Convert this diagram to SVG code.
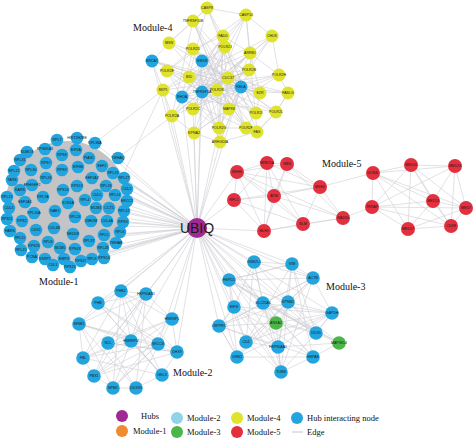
<svg xmlns="http://www.w3.org/2000/svg" width="474" height="440" viewBox="0 0 474 440">
<style>
.y circle{fill:#dfe32c}
.b circle{fill:#22a5de}
.r circle{fill:#e2303f}
.g circle{fill:#4cb648}
.h circle{fill:#a02a93}
.n text{font-family:"Liberation Sans",Arial,sans-serif;font-size:3.6px;text-anchor:middle;fill:#1a1a1a}
.e{fill:none;stroke:#cfcdd4;stroke-width:0.6}
.mod{font-family:"Liberation Serif","Times New Roman",serif;font-size:10px;fill:#111}
.leg{font-family:"Liberation Serif","Times New Roman",serif;font-size:8.5px;fill:#111}
</style>
<rect width="474" height="440" fill="#ffffff"/>
<circle cx="67" cy="202" r="61" fill="#c4c4c7"/>
<g id="connectors">
<path class="e" d="M207 8 L169 43 L249 70 L193 109 L246 15 L182 97 L193 49 L246 128 L193 21 L260 93 L152 61 L228 78 L220 142 L223 36 L172 116 L250 53 L217 90 L279 75 L163 90 L225 47 L256 113 L202 61 L194 133 L272 36 L202 92 L167 71 L229 109 L189 77 L219 128 L241 87 L288 93 L276 112 L257 132 L207 8"/>
<path class="e" d="M207 8 L189 77 L272 36 L172 116 L193 21 L229 109 L169 43 L241 87 L202 61 L257 132 L246 15 L167 71 L219 128 L223 36 L182 97 L276 112 L152 61 L260 93 L193 49 L220 142 L249 70 L202 92 L225 47 L194 133 L279 75 L193 109 L250 53 L163 90 L246 128 L228 78 L288 93 L217 90 L256 113 L207 8"/>
<path class="e" d="M207 8 L246 15 L272 36 L279 75 L288 93 L276 112 L257 132 L220 142 L194 133 L172 116 L163 90 L152 61 L169 43 L193 21 L207 8 L223 36 L250 53 L279 75 M246 15 L250 53 L260 93 L256 113 L246 128 L219 128 L193 109 L182 97 L167 71 L193 49 L223 36 M193 49 L202 61 L228 78 L249 70 L272 36 M189 77 L217 90 L241 87 L260 93 M202 92 L229 109 L246 128 M241 87 L229 109 L194 133 M172 116 L202 92 L217 90 L219 128"/>
<path class="e" d="M225 47 L189 77 L249 70 L202 92 L256 113 L193 49 L228 78 L182 97 L241 87 L167 71 L217 90 L246 15 L202 61 L219 128 L250 53 L193 109 L223 36 L229 109 L193 21 L228 78 L276 112 L202 61 L246 128 L189 77 L260 93 L225 47 L172 116 L241 87 L220 142 L202 92 L249 70"/>
<path class="e" d="M267 163 L287 164 M267 163 L237 172 M267 163 L320 187 M267 163 L234 200 M267 163 L274 196 M267 163 L303 224 M267 163 L264 231 M287 164 L237 172 M287 164 L320 187 M287 164 L274 196 M287 164 L343 218 M287 164 L264 231 M237 172 L234 200 M237 172 L274 196 M237 172 L320 187 M237 172 L303 224 M237 172 L343 218 M234 200 L274 196 M234 200 L264 231 M234 200 L320 187 M274 196 L320 187 M274 196 L303 224 M274 196 L264 231 M274 196 L343 218 M303 224 L264 231 M303 224 L343 218 M303 224 L320 187 M320 187 L343 218 M264 231 L343 218 M237 172 L264 231 M234 200 L303 224 M320 187 L373 173 M343 218 L372 207"/>
<path class="e" d="M373 173 L411 165 M373 173 L455 166 M373 173 L372 207 M373 173 L433 201 M373 173 L466 208 M373 173 L408 229 M373 173 L451 226 M411 165 L455 166 M411 165 L372 207 M411 165 L433 201 M411 165 L408 229 M411 165 L466 208 M411 165 L451 226 M455 166 L433 201 M455 166 L466 208 M455 166 L451 226 M455 166 L372 207 M372 207 L433 201 M372 207 L408 229 M372 207 L451 226 M372 207 L466 208 M433 201 L466 208 M433 201 L451 226 M433 201 L408 229 M466 208 L451 226 M466 208 L408 229 M408 229 L451 226"/>
<path class="e" d="M254 262 L313 278 L288 302 L332 313 L316 333 L339 343 L313 357 L281 372 L278 347 L246 342 L237 357 L219 326 L234 307 L229 280 L263 303 L254 262 M254 262 L263 303 L276 323 L316 333 L332 313 L313 278 L292 264 L288 302 L278 347 L281 372 L246 342 L234 307 L219 326 L237 357 L229 280 L292 264 M229 280 L313 278 L276 323 L237 357 L313 357 L234 307 L332 313 L246 342 L292 264 L278 347 L219 326 L288 302 L281 372 L316 333 L254 262 L246 342 M254 262 L292 264 L229 280 L288 302 L339 343 L278 347 L263 303 L313 357 L219 326 L313 278 L281 372 L234 307 L316 333 L263 303 L332 313 L276 323 L229 280 L316 333 M254 262 L234 307 L278 347 L332 313 L237 357 L288 302 L246 342 L313 278 L219 326 L276 323 L281 372 L263 303 L339 343 L229 280 L316 333 L292 264 L313 357"/>
<path class="e" d="M121 291 L146 294 L172 319 L177 352 L162 375 L136 388 L113 388 L94 376 L83 358 L79 324 L98 303 L121 291 L131 341 L162 375 L98 303 L158 344 L113 388 L79 324 L146 294 L108 343 L177 352 M121 291 L172 319 L108 343 L94 376 L158 344 L83 358 L146 294 L136 388 L79 324 L177 352 L98 303 L162 375 L131 341 L113 388 L121 291 L83 358 L172 319 L94 376 L146 294 M98 303 L146 294 L131 341 L83 358 L162 375 L121 291 L177 352 L108 343 L136 388 L172 319 L113 388 L158 344 L79 324 L131 341 L94 376 L177 352"/>
<path class="e" d="M197 228 L95 143 M197 228 L118 158 M197 228 L102 165 M197 228 L113 172 M197 228 L122 177 M197 228 L125 187 M197 228 L110 187 M197 228 L113 190 M197 228 L127 198 M197 228 L124 208 M197 228 L109 208 M197 228 L124 218 M197 228 L107 220 M197 228 L121 226 M197 228 L117 235 M197 228 L105 235 M197 228 L111 246 M197 228 L102 252 M197 228 L90 262 M197 228 L80 260 M197 228 L70 265 M197 228 L88 258 M197 228 L91 220 M197 228 L96 207 M197 228 L97 195 M197 228 L92 178 M197 228 L89 158 M197 228 L87 240"/>
<path class="e" d="M197 228 L163 90 M197 228 L172 116 M197 228 L194 133 M197 228 L220 142 M197 228 L219 128 M197 228 L182 97 M197 228 L193 109 M197 228 L152 61 M197 228 L202 92 M197 228 L241 87 M197 228 L202 61 M197 228 L234 200 M197 228 L237 172 M197 228 L264 231 M95 143 L163 90 M118 158 L172 116 M122 177 L163 90"/>
<path class="e" d="M197 228 L254 262 M197 228 L292 264 M197 228 L229 280 M197 228 L313 278 M197 228 L234 307 M197 228 L263 303 M197 228 L288 302 M197 228 L332 313 M197 228 L276 323 M197 228 L219 326 M197 228 L316 333 M197 228 L246 342 M197 228 L278 347 M197 228 L237 357 M197 228 L313 357 M197 228 L281 372 M197 228 L121 291 M197 228 L146 294 M197 228 L98 303 M197 228 L172 319 M197 228 L131 341 M197 228 L108 343 M197 228 L158 344 M197 228 L177 352 M197 228 L79 324"/>
</g>
<g id="module-4-nodes" class="n">
<g id="CASP8" class="y"><circle cx="207" cy="8" r="6.5"/><text x="207" y="9.3">CASP8</text></g>
<g id="CASP10" class="y"><circle cx="246" cy="15" r="6.5"/><text x="246" y="16.3">CASP10</text></g>
<g id="TNFRSF10B" class="y"><circle cx="193" cy="21" r="6.5"/><text x="193" y="22.3">TNFRSF10B</text></g>
<g id="FADD" class="y"><circle cx="223" cy="36" r="6.5"/><text x="223" y="37.3">FADD</text></g>
<g id="POLR2J" class="y"><circle cx="225" cy="47" r="6.5"/><text x="225" y="48.3">POLR2J</text></g>
<g id="CHUK" class="y"><circle cx="272" cy="36" r="6.5"/><text x="272" y="37.3">CHUK</text></g>
<g id="MSN" class="y"><circle cx="169" cy="43" r="6.5"/><text x="169" y="44.3">MSN</text></g>
<g id="POLR2D" class="y"><circle cx="193" cy="49" r="6.5"/><text x="193" y="50.3">POLR2D</text></g>
<g id="ARRB1" class="y"><circle cx="250" cy="53" r="6.5"/><text x="250" y="54.3">ARRB1</text></g>
<g id="BRCA1" class="b"><circle cx="152" cy="61" r="6.5"/><text x="152" y="62.3">BRCA1</text></g>
<g id="IKBKB" class="b"><circle cx="202" cy="61" r="6.5"/><text x="202" y="62.3">IKBKB</text></g>
<g id="POLR2E" class="y"><circle cx="167" cy="71" r="6.5"/><text x="167" y="72.3">POLR2E</text></g>
<g id="POLR2B" class="y"><circle cx="249" cy="70" r="6.5"/><text x="249" y="71.3">POLR2B</text></g>
<g id="POLR2H" class="y"><circle cx="279" cy="75" r="6.5"/><text x="279" y="76.3">POLR2H</text></g>
<g id="BID" class="y"><circle cx="189" cy="77" r="6.5"/><text x="189" y="78.3">BID</text></g>
<g id="CDC37" class="y"><circle cx="228" cy="78" r="6.5"/><text x="228" y="79.3">CDC37</text></g>
<g id="SKP1" class="y"><circle cx="163" cy="90" r="6.5"/><text x="163" y="91.3">SKP1</text></g>
<g id="RELA" class="b"><circle cx="241" cy="87" r="6.5"/><text x="241" y="88.3">RELA</text></g>
<g id="POLR2K" class="y"><circle cx="217" cy="90" r="6.5"/><text x="217" y="91.3">POLR2K</text></g>
<g id="RHOA" class="b"><circle cx="182" cy="97" r="6.5"/><text x="182" y="98.3">RHOA</text></g>
<g id="TNFRSF1A" class="b"><circle cx="202" cy="92" r="6.5"/><text x="202" y="93.3">TNFRSF1A</text></g>
<g id="EZR" class="y"><circle cx="260" cy="93" r="6.5"/><text x="260" y="94.3">EZR</text></g>
<g id="FASLG" class="y"><circle cx="288" cy="93" r="6.5"/><text x="288" y="94.3">FASLG</text></g>
<g id="MAPK8" class="y"><circle cx="229" cy="109" r="6.5"/><text x="229" y="110.3">MAPK8</text></g>
<g id="POLR2C" class="y"><circle cx="193" cy="109" r="6.5"/><text x="193" y="110.3">POLR2C</text></g>
<g id="POLR2I" class="y"><circle cx="256" cy="113" r="6.5"/><text x="256" y="114.3">POLR2I</text></g>
<g id="POLR2L" class="y"><circle cx="276" cy="112" r="6.5"/><text x="276" y="113.3">POLR2L</text></g>
<g id="POLR2A" class="y"><circle cx="172" cy="116" r="6.5"/><text x="172" y="117.3">POLR2A</text></g>
<g id="POLR2G" class="y"><circle cx="219" cy="128" r="6.5"/><text x="219" y="129.3">POLR2G</text></g>
<g id="POLR2F" class="y"><circle cx="246" cy="128" r="6.5"/><text x="246" y="129.3">POLR2F</text></g>
<g id="FAS" class="y"><circle cx="257" cy="132" r="6.5"/><text x="257" y="133.3">FAS</text></g>
<g id="KPNA2" class="y"><circle cx="194" cy="133" r="6.5"/><text x="194" y="134.3">KPNA2</text></g>
<g id="ARHGDIA" class="y"><circle cx="220" cy="142" r="6.5"/><text x="220" y="143.3">ARHGDIA</text></g>
</g>
<g id="module-5-nodes" class="n">
<g id="MRE11A" class="r"><circle cx="267" cy="163" r="7"/><text x="267" y="164.3">MRE11A</text></g>
<g id="NBN" class="r"><circle cx="287" cy="164" r="7"/><text x="287" y="165.3">NBN</text></g>
<g id="MSH6" class="r"><circle cx="237" cy="172" r="7"/><text x="237" y="173.3">MSH6</text></g>
<g id="MSH2" class="r"><circle cx="320" cy="187" r="7"/><text x="320" y="188.3">MSH2</text></g>
<g id="RFC1" class="r"><circle cx="234" cy="200" r="7"/><text x="234" y="201.3">RFC1</text></g>
<g id="ATM" class="r"><circle cx="274" cy="196" r="7"/><text x="274" y="197.3">ATM</text></g>
<g id="RAD50" class="r"><circle cx="343" cy="218" r="7"/><text x="343" y="219.3">RAD50</text></g>
<g id="BLM" class="r"><circle cx="303" cy="224" r="7"/><text x="303" y="225.3">BLM</text></g>
<g id="MLH1" class="r"><circle cx="264" cy="231" r="7"/><text x="264" y="232.3">MLH1</text></g>
<g id="GON4L" class="r"><circle cx="373" cy="173" r="7"/><text x="373" y="174.3">GON4L</text></g>
<g id="MED10" class="r"><circle cx="411" cy="165" r="7"/><text x="411" y="166.3">MED10</text></g>
<g id="MED23" class="r"><circle cx="455" cy="166" r="7"/><text x="455" y="167.3">MED23</text></g>
<g id="TRRAP" class="r"><circle cx="372" cy="207" r="7"/><text x="372" y="208.3">TRRAP</text></g>
<g id="MED24" class="r"><circle cx="433" cy="201" r="7"/><text x="433" y="202.3">MED24</text></g>
<g id="MED7" class="r"><circle cx="466" cy="208" r="7"/><text x="466" y="209.3">MED7</text></g>
<g id="MED17" class="r"><circle cx="408" cy="229" r="7"/><text x="408" y="230.3">MED17</text></g>
<g id="CDK8" class="r"><circle cx="451" cy="226" r="7"/><text x="451" y="227.3">CDK8</text></g>
</g>
<g id="module-3-nodes" class="n">
<g id="GNB2L1" class="b"><circle cx="254" cy="262" r="6.8"/><text x="254" y="263.3">GNB2L1</text></g>
<g id="VIM" class="b"><circle cx="292" cy="264" r="6.8"/><text x="292" y="265.3">VIM</text></g>
<g id="HSPD1" class="b"><circle cx="229" cy="280" r="6.8"/><text x="229" y="281.3">HSPD1</text></g>
<g id="ACTB" class="b"><circle cx="313" cy="278" r="6.8"/><text x="313" y="279.3">ACTB</text></g>
<g id="EIF3I" class="b"><circle cx="234" cy="307" r="6.8"/><text x="234" y="308.3">EIF3I</text></g>
<g id="SLC25A6" class="b"><circle cx="263" cy="303" r="6.8"/><text x="263" y="304.3">SLC25A6</text></g>
<g id="KPNB1" class="b"><circle cx="288" cy="302" r="6.8"/><text x="288" y="303.3">KPNB1</text></g>
<g id="GAPDH" class="b"><circle cx="332" cy="313" r="6.8"/><text x="332" y="314.3">GAPDH</text></g>
<g id="ANXA2" class="g"><circle cx="276" cy="323" r="6.8"/><text x="276" y="324.3">ANXA2</text></g>
<g id="LRPPRC" class="b"><circle cx="219" cy="326" r="6.8"/><text x="219" y="327.3">LRPPRC</text></g>
<g id="DDX5" class="b"><circle cx="316" cy="333" r="6.8"/><text x="316" y="334.3">DDX5</text></g>
<g id="MAP3K14" class="g"><circle cx="339" cy="343" r="6.8"/><text x="339" y="344.3">MAP3K14</text></g>
<g id="CD4" class="b"><circle cx="246" cy="342" r="6.8"/><text x="246" y="343.3">CD4</text></g>
<g id="HSP90AA1" class="b"><circle cx="278" cy="347" r="6.8"/><text x="278" y="348.3">HSP90AA1</text></g>
<g id="GRB2" class="b"><circle cx="237" cy="357" r="6.8"/><text x="237" y="358.3">GRB2</text></g>
<g id="HSPA8" class="b"><circle cx="313" cy="357" r="6.8"/><text x="313" y="358.3">HSPA8</text></g>
<g id="TUBB" class="b"><circle cx="281" cy="372" r="6.8"/><text x="281" y="373.3">TUBB</text></g>
</g>
<g id="module-2-nodes" class="n">
<g id="PHB2" class="b"><circle cx="121" cy="291" r="6.8"/><text x="121" y="292.3">PHB2</text></g>
<g id="HSP90AB1" class="b"><circle cx="146" cy="294" r="6.8"/><text x="146" y="295.3">HSP90AB1</text></g>
<g id="PHB" class="b"><circle cx="98" cy="303" r="6.8"/><text x="98" y="304.3">PHB</text></g>
<g id="SF3B1" class="b"><circle cx="79" cy="324" r="6.8"/><text x="79" y="325.3">SF3B1</text></g>
<g id="HNRNPL" class="b"><circle cx="172" cy="319" r="6.8"/><text x="172" y="320.3">HNRNPL</text></g>
<g id="NCL" class="b"><circle cx="108" cy="343" r="6.8"/><text x="108" y="344.3">NCL</text></g>
<g id="HNRNPU" class="b"><circle cx="131" cy="341" r="6.8"/><text x="131" y="342.3">HNRNPU</text></g>
<g id="SRCC8" class="b"><circle cx="158" cy="344" r="6.8"/><text x="158" y="345.3">SRCC8</text></g>
<g id="DHX9" class="b"><circle cx="177" cy="352" r="6.8"/><text x="177" y="353.3">DHX9</text></g>
<g id="FBL" class="b"><circle cx="83" cy="358" r="6.8"/><text x="83" y="359.3">FBL</text></g>
<g id="PBX1" class="b"><circle cx="94" cy="376" r="6.8"/><text x="94" y="377.3">PBX1</text></g>
<g id="GNL3" class="b"><circle cx="162" cy="375" r="6.8"/><text x="162" y="376.3">GNL3</text></g>
<g id="NPM1" class="b"><circle cx="113" cy="388" r="6.8"/><text x="113" y="389.3">NPM1</text></g>
<g id="DDX39" class="b"><circle cx="136" cy="388" r="6.8"/><text x="136" y="389.3">DDX39</text></g>
</g>
<g id="module-1-nodes" class="n">
<g id="m1-RPL7" class="b"><circle cx="57" cy="140" r="6.3"/><text x="57" y="141.3">RPL7</text></g>
<g id="m1-HIST2H2BE" class="b"><circle cx="77" cy="138" r="6.3"/><text x="77" y="139.3">HIST2H2BE</text></g>
<g id="m1-RPL38A" class="b"><circle cx="95" cy="143" r="6.3"/><text x="95" y="144.3">RPL38A</text></g>
<g id="m1-SUMO3" class="b"><circle cx="27" cy="152" r="6.3"/><text x="27" y="153.3">SUMO3</text></g>
<g id="m1-RPS6KA3" class="b"><circle cx="45" cy="149" r="6.3"/><text x="45" y="150.3">RPS6KA3</text></g>
<g id="m1-EIF2A" class="b"><circle cx="76" cy="150" r="6.3"/><text x="76" y="151.3">EIF2A</text></g>
<g id="m1-RPL31" class="b"><circle cx="20" cy="160" r="6.3"/><text x="20" y="161.3">RPL31</text></g>
<g id="m1-RPS8" class="b"><circle cx="62" cy="155" r="6.3"/><text x="62" y="156.3">RPS8</text></g>
<g id="m1-RPS7" class="b"><circle cx="46" cy="163" r="6.3"/><text x="46" y="164.3">RPS7</text></g>
<g id="m1-PIAS1" class="b"><circle cx="89" cy="158" r="6.3"/><text x="89" y="159.3">PIAS1</text></g>
<g id="m1-RPL22" class="b"><circle cx="14" cy="171" r="6.3"/><text x="14" y="172.3">RPL22</text></g>
<g id="m1-RPL30" class="b"><circle cx="31" cy="170" r="6.3"/><text x="31" y="171.3">RPL30</text></g>
<g id="m1-RPS9" class="b"><circle cx="62" cy="170" r="6.3"/><text x="62" y="171.3">RPS9</text></g>
<g id="m1-EIF3B" class="b"><circle cx="78" cy="167" r="6.3"/><text x="78" y="168.3">EIF3B</text></g>
<g id="m1-TARS" class="b"><circle cx="12" cy="180" r="6.3"/><text x="12" y="181.3">TARS</text></g>
<g id="m1-RPL26" class="b"><circle cx="46" cy="178" r="6.3"/><text x="46" y="179.3">RPL26</text></g>
<g id="m1-ARHGEF2" class="b"><circle cx="32" cy="185" r="6.3"/><text x="32" y="186.3">ARHGEF2</text></g>
<g id="m1-RPS13" class="b"><circle cx="77" cy="186" r="6.3"/><text x="77" y="187.3">RPS13</text></g>
<g id="m1-RPS16" class="b"><circle cx="63" cy="190" r="6.3"/><text x="63" y="191.3">RPS16</text></g>
<g id="m1-KARS" class="b"><circle cx="20" cy="190" r="6.3"/><text x="20" y="191.3">KARS</text></g>
<g id="m1-YWHAQ" class="b"><circle cx="118" cy="158" r="6.3"/><text x="118" y="159.3">YWHAQ</text></g>
<g id="m1-EEF2" class="b"><circle cx="102" cy="166" r="6.3"/><text x="102" y="167.3">EEF2</text></g>
<g id="m1-RPL23" class="b"><circle cx="113" cy="173" r="6.3"/><text x="113" y="174.3">RPL23</text></g>
<g id="m1-RPL27" class="b"><circle cx="124" cy="178" r="6.3"/><text x="124" y="179.3">RPL27</text></g>
<g id="m1-EEF1A2" class="b"><circle cx="92" cy="178" r="6.3"/><text x="92" y="179.3">EEF1A2</text></g>
<g id="m1-CUL2" class="b"><circle cx="127" cy="189" r="6.3"/><text x="127" y="190.3">CUL2</text></g>
<g id="m1-RPL18" class="b"><circle cx="106" cy="186" r="6.3"/><text x="106" y="187.3">RPL18</text></g>
<g id="m1-RPL14" class="b"><circle cx="115" cy="195" r="6.3"/><text x="115" y="196.3">RPL14</text></g>
<g id="m1-RPL13" class="b"><circle cx="7" cy="197" r="6.3"/><text x="7" y="198.3">RPL13</text></g>
<g id="m1-EEF1A1" class="b"><circle cx="25" cy="202" r="6.3"/><text x="25" y="203.3">EEF1A1</text></g>
<g id="m1-RPL7A" class="b"><circle cx="43" cy="197" r="6.3"/><text x="43" y="198.3">RPL7A</text></g>
<g id="m1-SCN1A" class="b"><circle cx="68" cy="203" r="6.3"/><text x="68" y="204.3">SCN1A</text></g>
<g id="m1-RPL4" class="b"><circle cx="85" cy="200" r="6.3"/><text x="85" y="201.3">RPL4</text></g>
<g id="m1-CUL5" class="b"><circle cx="97" cy="195" r="6.3"/><text x="97" y="196.3">CUL5</text></g>
<g id="m1-MCM4" class="b"><circle cx="96" cy="208" r="6.3"/><text x="96" y="209.3">MCM4</text></g>
<g id="m1-CUL3" class="b"><circle cx="9" cy="208" r="6.3"/><text x="9" y="209.3">CUL3</text></g>
<g id="m1-RPL10A" class="b"><circle cx="34" cy="213" r="6.3"/><text x="34" y="214.3">RPL10A</text></g>
<g id="m1-NAE1" class="b"><circle cx="55" cy="211" r="6.3"/><text x="55" y="212.3">NAE1</text></g>
<g id="m1-RPL24" class="b"><circle cx="75" cy="217" r="6.3"/><text x="75" y="218.3">RPL24</text></g>
<g id="m1-RPS11" class="b"><circle cx="7" cy="219" r="6.3"/><text x="7" y="220.3">RPS11</text></g>
<g id="m1-RPS2" class="b"><circle cx="22" cy="221" r="6.3"/><text x="22" y="222.3">RPS2</text></g>
<g id="m1-UBE2M" class="b"><circle cx="91" cy="221" r="6.3"/><text x="91" y="222.3">UBE2M</text></g>
<g id="m1-HARS" class="b"><circle cx="10" cy="231" r="6.3"/><text x="10" y="232.3">HARS</text></g>
<g id="m1-CDK1" class="b"><circle cx="36" cy="230" r="6.3"/><text x="36" y="231.3">CDK1</text></g>
<g id="m1-CUL4B" class="b"><circle cx="54" cy="228" r="6.3"/><text x="54" y="229.3">CUL4B</text></g>
<g id="m1-RPL11" class="b"><circle cx="20" cy="238" r="6.3"/><text x="20" y="239.3">RPL11</text></g>
<g id="m1-NEDD8" class="b"><circle cx="73" cy="234" r="6.3"/><text x="73" y="235.3">NEDD8</text></g>
<g id="m1-RPL37" class="b"><circle cx="89" cy="241" r="6.3"/><text x="89" y="242.3">RPL37</text></g>
<g id="m1-RPL8" class="b"><circle cx="48" cy="242" r="6.3"/><text x="48" y="243.3">RPL8</text></g>
<g id="m1-RPL15" class="b"><circle cx="21" cy="250" r="6.3"/><text x="21" y="251.3">RPL15</text></g>
<g id="m1-RPS26" class="b"><circle cx="34" cy="246" r="6.3"/><text x="34" y="247.3">RPS26</text></g>
<g id="m1-MCM5" class="b"><circle cx="60" cy="248" r="6.3"/><text x="60" y="249.3">MCM5</text></g>
<g id="m1-RPS4X" class="b"><circle cx="75" cy="249" r="6.3"/><text x="75" y="250.3">RPS4X</text></g>
<g id="m1-PCNA" class="b"><circle cx="32" cy="257" r="6.3"/><text x="32" y="258.3">PCNA</text></g>
<g id="m1-SSRP1" class="b"><circle cx="45" cy="259" r="6.3"/><text x="45" y="260.3">SSRP1</text></g>
<g id="m1-EMP3" class="b"><circle cx="64" cy="259" r="6.3"/><text x="64" y="260.3">EMP3</text></g>
<g id="m1-CUL1" class="b"><circle cx="53" cy="265" r="6.3"/><text x="53" y="266.3">CUL1</text></g>
<g id="m1-RPS27" class="b"><circle cx="81" cy="261" r="6.3"/><text x="81" y="262.3">RPS27</text></g>
<g id="m1-RPS15" class="b"><circle cx="70" cy="267" r="6.3"/><text x="70" y="268.3">RPS15</text></g>
<g id="m1-RPL9" class="b"><circle cx="92" cy="259" r="6.3"/><text x="92" y="260.3">RPL9</text></g>
<g id="m1-ERCC1" class="b"><circle cx="127" cy="201" r="6.3"/><text x="127" y="202.3">ERCC1</text></g>
<g id="m1-CCT5" class="b"><circle cx="109" cy="208" r="6.3"/><text x="109" y="209.3">CCT5</text></g>
<g id="m1-RPL12" class="b"><circle cx="124" cy="211" r="6.3"/><text x="124" y="212.3">RPL12</text></g>
<g id="m1-RPS3" class="b"><circle cx="123" cy="222" r="6.3"/><text x="123" y="223.3">RPS3</text></g>
<g id="m1-CUL4A" class="b"><circle cx="107" cy="221" r="6.3"/><text x="107" y="222.3">CUL4A</text></g>
<g id="m1-RPL6" class="b"><circle cx="120" cy="232" r="6.3"/><text x="120" y="233.3">RPL6</text></g>
<g id="m1-RPL5" class="b"><circle cx="104" cy="235" r="6.3"/><text x="104" y="236.3">RPL5</text></g>
<g id="m1-YWHAE" class="b"><circle cx="116" cy="243" r="6.3"/><text x="116" y="244.3">YWHAE</text></g>
<g id="m1-RPL28" class="b"><circle cx="103" cy="248" r="6.3"/><text x="103" y="249.3">RPL28</text></g>
<g id="m1-RPS14" class="b"><circle cx="104" cy="258" r="6.3"/><text x="104" y="259.3">RPS14</text></g>
</g>
<g id="UBIQ" class="h"><circle cx="197" cy="228" r="10"/><text x="197" y="233" style="font-family:'Liberation Sans',Arial,sans-serif;font-size:14px;text-anchor:middle;fill:#1a1a1a">UBIQ</text></g>
<g id="labels">
<text class="mod" x="133" y="31">Module-4</text>
<text class="mod" x="322" y="167">Module-5</text>
<text class="mod" x="39" y="285">Module-1</text>
<text class="mod" x="326" y="290">Module-3</text>
<text class="mod" x="173" y="376">Module-2</text>
</g>
<g id="legend">
<circle cx="122" cy="416" r="6" fill="#a02a93"/><text class="leg" x="141" y="419">Hubs</text>
<circle cx="122" cy="431" r="6" fill="#f08a30"/><text class="leg" x="133" y="434">Module-1</text>
<circle cx="177" cy="418" r="6" fill="#8fd3ea"/><text class="leg" x="187" y="421">Module-2</text>
<circle cx="177" cy="432" r="6" fill="#4cb648"/><text class="leg" x="187" y="435">Module-3</text>
<circle cx="237" cy="418" r="6" fill="#dfe32c"/><text class="leg" x="247" y="421">Module-4</text>
<circle cx="237" cy="432" r="6" fill="#e2303f"/><text class="leg" x="247" y="435">Module-5</text>
<circle cx="297" cy="418" r="6" fill="#22a5de"/><text class="leg" x="307" y="421">Hub interacting node</text>
<line x1="292" y1="432" x2="303" y2="432" stroke="#b8b8c0" stroke-width="0.8"/><text class="leg" x="307" y="435">Edge</text>
</g>
</svg>
